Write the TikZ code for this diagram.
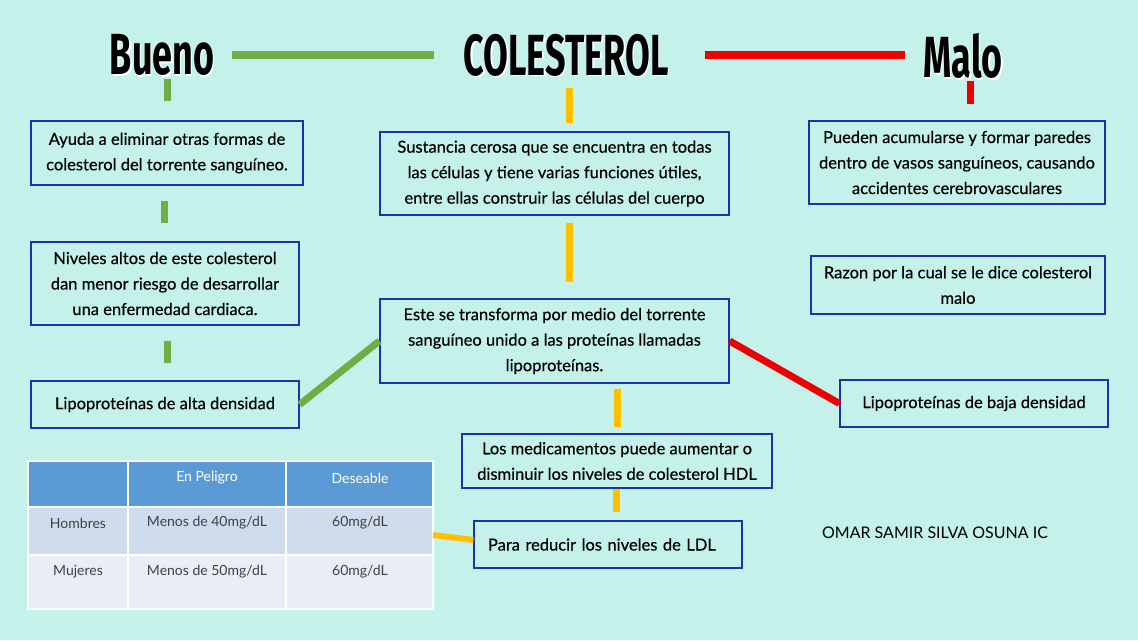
\documentclass[tikz,border=0pt]{standalone}
\usepackage{fontspec}
\setmainfont{Lato}
\newfontfamily\boxfont{Lato}[FakeBold=0.35]
\newfontfamily\titlefont{Fira Sans}[FakeStretch=0.62]
\usetikzlibrary{positioning}
\definecolor{bgmint}{RGB}{196,241,234}
\definecolor{boxblue}{RGB}{30,48,170}
\definecolor{goodgreen}{RGB}{112,173,71}
\definecolor{badred}{RGB}{238,0,0}
\definecolor{colyellow}{RGB}{255,192,0}
\definecolor{headblue}{RGB}{91,155,213}
\definecolor{rowone}{RGB}{207,220,237}
\definecolor{rowtwo}{RGB}{232,237,246}
\definecolor{celltext}{RGB}{64,64,64}

\begin{document}
\begin{tikzpicture}[x=1pt, y=-1pt,
    infobox/.style={draw=boxblue, line width=1.3pt, inner xsep=4pt, inner ysep=0pt, align=center, font=\boxfont\fontsize{16.5}{25.5}\selectfont},
    title/.style={font=\titlefont\bfseries\fontsize{58}{60}\selectfont, inner sep=0pt},
    titleshade/.style={title, text=white},
    goodline/.style={goodgreen, line width=7pt},
    badline/.style={badred, line width=7pt},
    midline/.style={colyellow, line width=7pt},
    cellhead/.style={text=white, font=\fontsize{14}{16}\selectfont},
    cellbody/.style={text=celltext, font=\fontsize{14}{16}\selectfont}
]
\fill[bgmint] (0,0) rectangle (1138,640);
\useasboundingbox (0,0) rectangle (1138,640);

% titles
\node[titleshade] at (163.5,56.5) {Bueno};
\node[titleshade] at (567.5,56.5) {COLESTEROL};
\node[titleshade] at (964.5,57.5) {Malo};
\node[title] (tBueno) at (162,55) {Bueno};
\node[title] (tCol) at (566,55) {COLESTEROL};
\node[title] (tMalo) at (963,56) {Malo};

% good side
\node[infobox, minimum width=272, minimum height=64] (bA) at (167,153) {Ayuda a eliminar otras formas de\\colesterol del torrente sanguíneo.};
\node[infobox, minimum width=268, minimum height=83] (bB) at (165,283.5) {Niveles altos de este colesterol\\dan menor riesgo de desarrollar\\una enfermedad cardiaca.};
\node[infobox, minimum width=268, minimum height=47] (bC) at (165,404.5) {Lipoproteínas de alta densidad};

% middle
\node[infobox, minimum width=349, minimum height=83] (cA) at (554.5,173.5) {Sustancia cerosa que se encuentra en todas\\las células y tiene varias funciones útiles,\\entre ellas construir las células del cuerpo};
\node[infobox, minimum width=349, minimum height=84] (cB) at (554.5,341) {Este se transforma por medio del torrente\\sanguíneo unido a las proteínas llamadas\\lipoproteínas.};
\node[infobox, minimum width=310, minimum height=54] (cC) at (617,461) {Los medicamentos puede aumentar o\\disminuir los niveles de colesterol HDL};
\node[infobox, minimum width=268, minimum height=47, text width=240, inner xsep=14pt, align=left] (cD) at (608,544.5) {Para reducir los niveles de LDL};

% bad side
\node[infobox, minimum width=296, minimum height=83] (mA) at (957,162.5) {Pueden acumularse y formar paredes\\dentro de vasos sanguíneos, causando\\accidentes cerebrovasculares};
\node[infobox, minimum width=294, minimum height=58] (mB) at (958,285) {Razon por la cual se le dice colesterol\\malo};
\node[infobox, minimum width=268, minimum height=47] (mC) at (974,403.5) {Lipoproteínas de baja densidad};

\node[font=\fontsize{16}{18}\selectfont] (author) at (935,533) {OMAR SAMIR SILVA OSUNA IC};

% table
\fill[headblue] (28,461) rectangle (433,507);
\fill[rowone] (28,507) rectangle (433,555);
\fill[rowtwo] (28,555) rectangle (433,609);
\draw[white, line width=1.5pt] (28,461) rectangle (433,609);
\draw[white, line width=1.5pt] (128,461) -- (128,609);
\draw[white, line width=1.5pt] (286,461) -- (286,609);
\draw[white, line width=1.5pt] (28,507) -- (433,507);
\draw[white, line width=1.5pt] (28,555) -- (433,555);
\node[cellhead] (hPel) at (207,478) {En Peligro};
\node[cellhead] (hDes) at (360,478) {Deseable};
\node[cellbody] (rHom) at (78,523) {Hombres};
\node[cellbody] (rHomA) at (207,523) {Menos de 40mg/dL};
\node[cellbody] (rHomB) at (360,523) {60mg/dL};
\node[cellbody] (rMuj) at (78,572) {Mujeres};
\node[cellbody] (rMujA) at (207,572) {Menos de 50mg/dL};
\node[cellbody] (rMujB) at (360,572) {60mg/dL};
\coordinate (tabright) at (433,535);

% connectors
\draw[goodline, line width=8pt, shorten <=18, shorten >=29] (tBueno.east) -- (tBueno.east -| tCol.west);
\draw[badline, line width=8pt, shorten <=36, shorten >=18] (tCol.east) -- (tCol.east -| tMalo.west);
\draw[goodline, shorten <=3, shorten >=19] ([xshift=5pt]tBueno.south) -- ([xshift=5pt]tBueno.south |- bA.north);
\draw[goodline, shorten <=15, shorten >=18] ([xshift=-3pt]bA.south) -- ([xshift=-3pt]bA.south |- bB.north);
\draw[goodline, shorten <=15, shorten >=17] ([xshift=2pt]bB.south) -- ([xshift=2pt]bB.south |- bC.north);
\draw[goodline] (bC.east) -- (cB.west);
\draw[badline, shorten <=2, shorten >=16] ([xshift=7pt]tMalo.south) -- ([xshift=7pt]tMalo.south |- mA.north);
\draw[badline] (cB.east) -- (mC.west);
\draw[midline, shorten <=12, shorten >=8] ([xshift=3pt]tCol.south) -- ([xshift=3pt]tCol.south |- cA.north);
\draw[midline, shorten <=7, shorten >=16] ([xshift=14.5pt]cA.south) -- ([xshift=14.5pt]cA.south |- cB.north);
\draw[midline, shorten <=5, shorten >=6] (cC.north |- cB.south) -- (cC.north);
\draw[midline, shorten >=8] ([xshift=-1pt]cC.south) -- ([xshift=-1pt]cC.south |- cD.north);
\draw[midline, line width=6pt] (tabright) -- ([yshift=4.5pt]cD.west);

\end{tikzpicture}
\end{document}
